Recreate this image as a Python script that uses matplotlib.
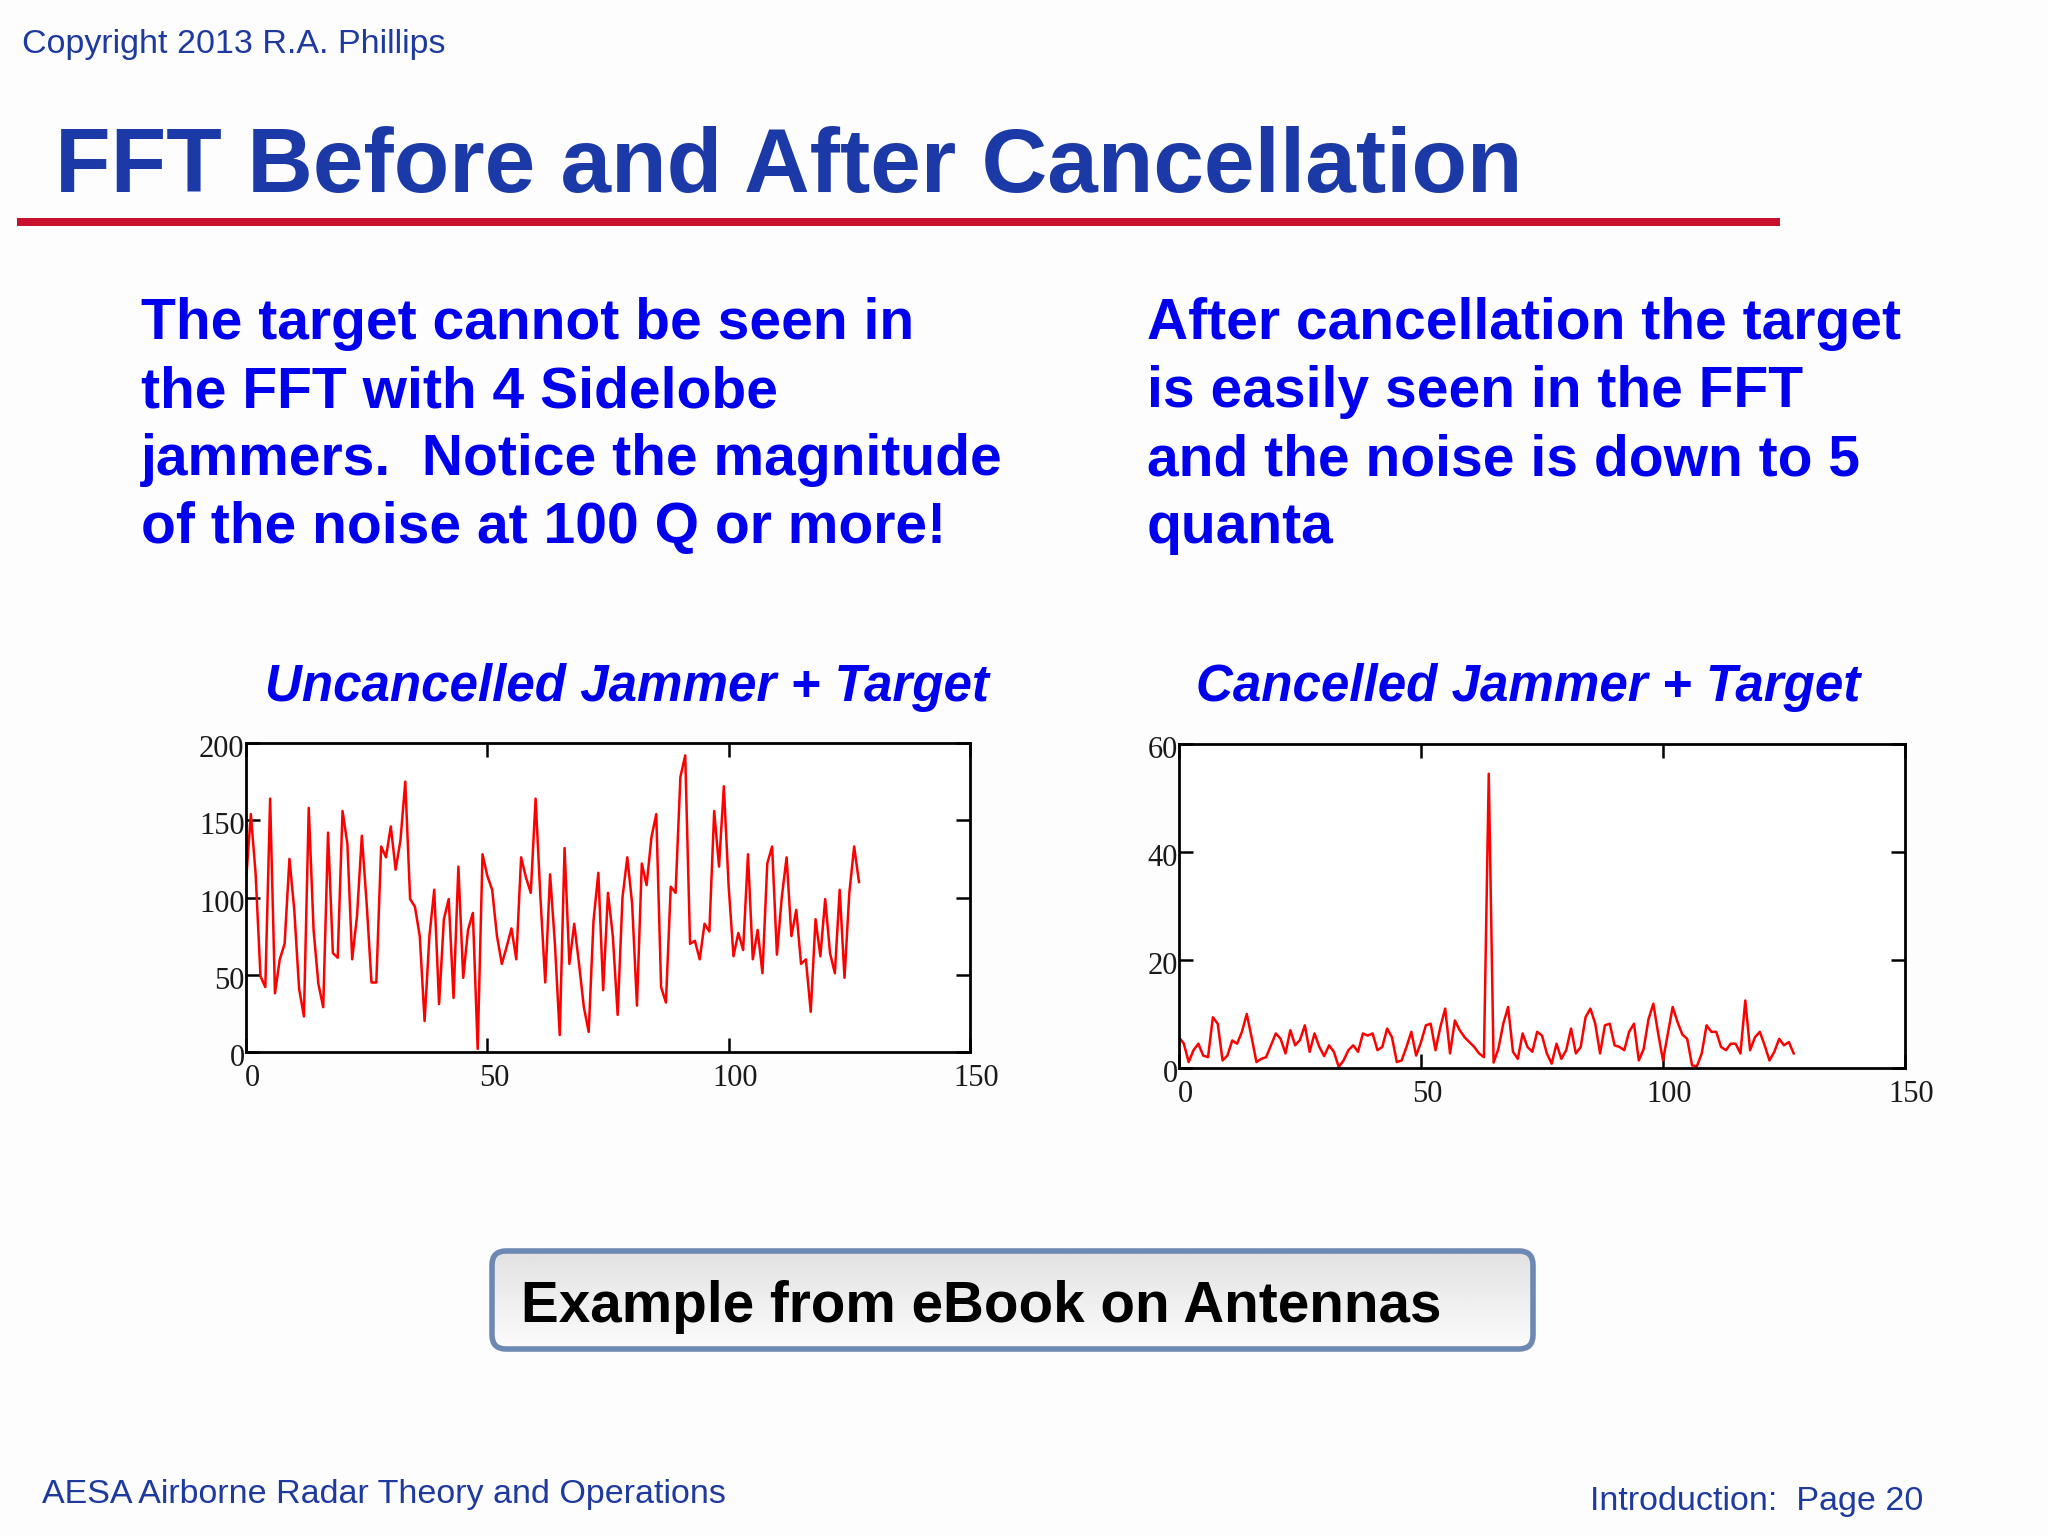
import numpy as np
import matplotlib
matplotlib.use("Agg")
import matplotlib.pyplot as plt
from matplotlib.patches import FancyBboxPatch
from matplotlib.transforms import ScaledTranslation

W, H = 2048, 1536

# FFT magnitude readings, one value per bin (0..127)
bins = np.arange(128)
uncancelled = [
    110, 154, 115, 49, 42, 164, 38, 60, 70, 125, 92, 41, 23, 158, 79, 44,
    29, 142, 64, 61, 156, 135, 60, 88, 140, 96, 45, 45, 133, 126, 146, 118,
    137, 175, 99, 94, 75, 20, 75, 105, 31, 86, 99, 35, 120, 48, 79, 90,
    2, 128, 114, 105, 75, 57, 68, 80, 60, 126, 113, 103, 164, 100, 45, 115,
    70, 11, 132, 57, 83, 57, 29, 13, 85, 116, 40, 103, 75, 24, 100, 126,
    96, 30, 122, 108, 139, 154, 42, 32, 107, 103, 178, 192, 70, 72, 60, 83,
    78, 156, 120, 172, 107, 62, 77, 66, 128, 60, 79, 51, 122, 133, 63, 100,
    126, 75, 92, 57, 60, 26, 86, 62, 99, 64, 51, 105, 48, 103, 133, 110,
]
cancelled = [
    5.7, 4.5, 1.1, 3.3, 4.5, 2.3, 2.0, 9.4, 8.2, 1.4, 2.3, 5.1, 4.5, 6.7, 10.0, 5.7,
    1.1, 1.7, 2.0, 4.2, 6.4, 5.4, 2.7, 7.0, 4.2, 5.2, 7.9, 3.0, 6.4, 3.9, 2.2, 4.2,
    3.0, 0.2, 1.4, 3.3, 4.2, 3.0, 6.4, 6.0, 6.4, 3.3, 3.9, 7.3, 5.7, 1.1, 1.4, 3.9,
    6.7, 2.3, 4.8, 7.9, 8.2, 3.3, 7.6, 11.0, 2.7, 8.8, 7.0, 5.7, 4.8, 3.9, 2.7, 2.0,
    54.5, 1.0, 3.6, 8.2, 11.3, 3.0, 1.7, 6.4, 3.9, 3.0, 6.7, 6.0, 2.7, 0.8, 4.5, 1.7,
    3.3, 7.3, 2.7, 3.9, 9.4, 11.0, 8.2, 2.7, 7.9, 8.2, 4.2, 3.9, 3.3, 6.7, 8.2, 1.4,
    3.5, 9.0, 11.9, 6.4, 1.4, 6.4, 11.3, 8.5, 6.2, 5.4, 0.5, 0.3, 2.7, 7.9, 6.7, 6.7,
    3.9, 3.3, 4.5, 4.5, 2.7, 12.5, 3.3, 5.7, 6.7, 4.2, 1.4, 3.0, 5.4, 4.2, 4.8, 2.7,
]

x_ticks = [0, 50, 100, 150]
left_yticks = [0, 50, 100, 150, 200]
right_yticks = [0, 20, 40, 60]

left_text = ["The target cannot be seen in",
             "the FFT with 4 Sidelobe",
             "jammers.  Notice the magnitude",
             "of the noise at 100 Q or more!"]
right_text = ["After cancellation the target",
              "is easily seen in the FFT",
              "and the noise is down to 5",
              "quanta"]

plt.rcParams['font.family'] = ['Liberation Sans', 'DejaVu Sans']

fig = plt.figure(figsize=(W / 100, H / 100), dpi=100, facecolor='#fdfdfe')


def fx(px):
    return px / W


def fy(py):
    return 1 - py / H


def put(px, py, s, **kw):
    fig.text(fx(px), fy(py), s, va='baseline', **kw)


title_blue = '#1b3aa8'
text_blue = '#0000ee'

put(22, 53, "Copyright 2013 R.A. Phillips", fontsize=24.5, color='#1e3a9e')
put(55, 192, "FFT Before and After Cancellation", fontsize=65.5, fontweight='bold',
    color=title_blue)

# red rule under the title
rule = fig.add_axes([fx(17), fy(226), fx(1780 - 17), 8 / H])
rule.set_facecolor('#c8102e')
rule.set_xticks([])
rule.set_yticks([])
for s in rule.spines.values():
    s.set_visible(False)

for k, line in enumerate(left_text):
    put(141, 339 + 68 * k, line, fontsize=41, fontweight='bold', color=text_blue)
for k, line in enumerate(right_text):
    put(1147, 339 + 68 * k, line, fontsize=41, fontweight='bold', color=text_blue)

put(265, 701, "Uncancelled Jammer + Target", fontsize=36.8, fontweight='bold',
    style='italic', color=text_blue)
put(1196, 701, "Cancelled Jammer + Target", fontsize=36.8, fontweight='bold',
    style='italic', color=text_blue)


def fft_axes(x0, y0, x1, y1, data, ymax, yticks):
    ax = fig.add_axes([fx(x0), fy(y1), fx(x1 - x0), (y1 - y0) / H])
    ax.plot(bins, data, color='#ff0000', linewidth=1.8)
    ax.set_xlim(0, 150)
    ax.set_ylim(0, ymax)
    ax.set_xticks(x_ticks)
    ax.set_yticks(yticks)
    ax.set_xticklabels([str(v) for v in x_ticks])
    ax.set_yticklabels([str(v) for v in yticks])
    ax.tick_params(direction='in', length=10, width=1.8, top=True, right=True,
                   labelsize=22, colors='black')
    ax.tick_params(axis='x', pad=9)
    ax.tick_params(axis='y', pad=1)
    for lab in ax.get_xticklabels():
        lab.set_transform(lab.get_transform() +
                          ScaledTranslation(0.065, 0, fig.dpi_scale_trans))
    for lab in ax.get_yticklabels():
        lab.set_transform(lab.get_transform() +
                          ScaledTranslation(0, -0.03, fig.dpi_scale_trans))
    for lab in ax.get_xticklabels() + ax.get_yticklabels():
        lab.set_family('Liberation Serif')
        lab.set_color('#1a1a1a')
    for s in ax.spines.values():
        s.set_linewidth(2)
        s.set_color('black')
    ax.set_facecolor('white')
    return ax


fft_axes(246, 743, 970, 1052, uncancelled, 200, left_yticks)
fft_axes(1179, 744, 1905, 1068, cancelled, 60, right_yticks)

# callout box with gradient fill
bx0, by0, bx1, by1 = 492, 1251, 1533, 1349
bw, bh = bx1 - bx0, by1 - by0
bax = fig.add_axes([fx(bx0 - 4), fy(by1 + 4), (bw + 8) / W, (bh + 8) / H])
bax.set_xlim(-4, bw + 4)
bax.set_ylim(-4, bh + 4)
bax.axis('off')
box = FancyBboxPatch((0, 0), bw, bh, boxstyle="round,pad=0,rounding_size=14",
                     facecolor='none', edgecolor='#6d88b3', linewidth=4, zorder=3)
bax.add_patch(box)
grad = np.linspace(0.985, 0.885, 64).reshape(-1, 1)
img = bax.imshow(grad, extent=(0, bw, 0, bh), origin='lower', cmap='gray',
                 vmin=0, vmax=1, aspect='auto', zorder=1)
img.set_clip_path(box)
put(521, 1322, "Example from eBook on Antennas", fontsize=40.8, fontweight='bold',
    color='black')

put(42, 1503, "AESA Airborne Radar Theory and Operations", fontsize=24.5,
    color='#1e3a9e')
put(1590, 1510, "Introduction:  Page 20", fontsize=24.5, color='#1e3a9e')

fig.savefig("out.png", dpi=100, facecolor=fig.get_facecolor())
